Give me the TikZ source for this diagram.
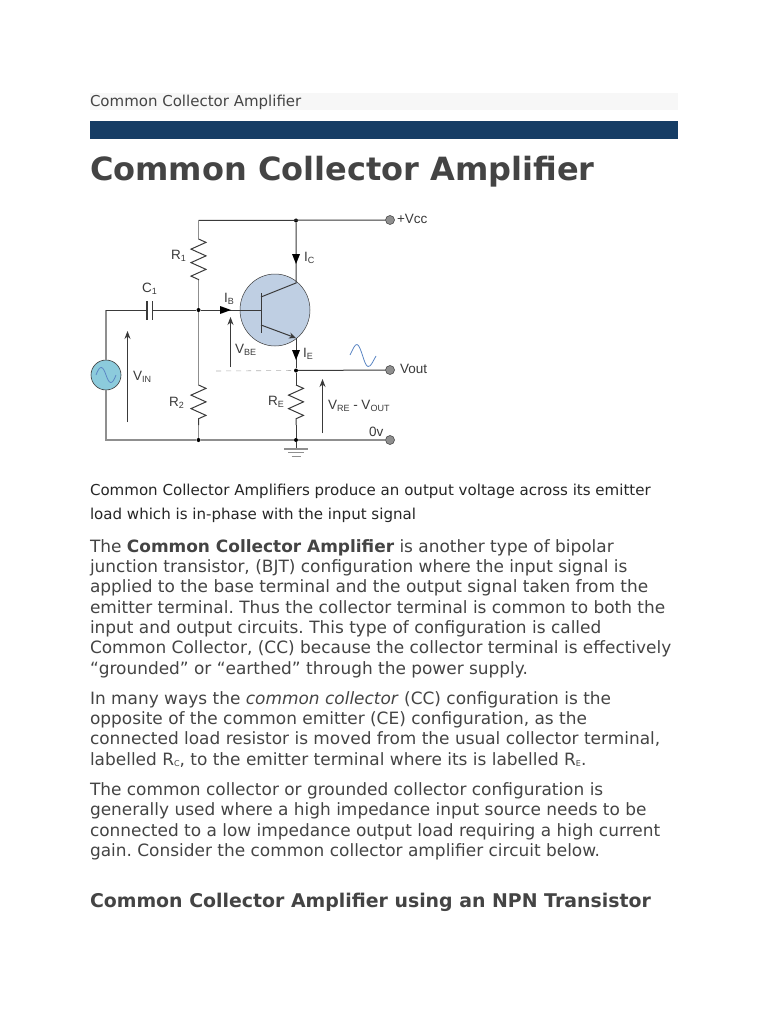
\documentclass[tikz,border=0pt]{standalone}
\usepackage{fontspec}
\setmainfont{DejaVu Sans}
\newfontfamily\labfont{Liberation Sans}
\usetikzlibrary{arrows.meta,decorations.pathmorphing}
\frenchspacing
\definecolor{textgrey}{HTML}{444444}
\definecolor{wiregrey}{HTML}{8F8F8F}
\definecolor{wiredark}{HTML}{3A3A3A}
\definecolor{navybar}{HTML}{163D65}
\definecolor{bandgrey}{HTML}{F7F7F7}
\definecolor{bodyblue}{HTML}{BFCFE3}
\definecolor{srcblue}{HTML}{8CCBDC}
\definecolor{sineblue}{HTML}{5B86C4}
\newcommand{\subl}[1]{\raisebox{-1.5pt}{\fontsize{9}{9}\selectfont #1}}
\newcommand{\subt}[1]{\raisebox{-1pt}{\fontsize{8}{8}\selectfont #1}}
\tikzset{
  txt/.style={anchor=base west, inner sep=0pt, outer sep=0pt, text=textgrey, font=\fontsize{16.95}{20}\selectfont},
  lab/.style={inner sep=0pt, outer sep=0pt, text=wiredark, font=\labfont\fontsize{13.5}{15}\selectfont},
  wire/.style={line width=1pt, draw=wiredark},
  greywire/.style={line width=1.2pt, draw=wiregrey},
  resistor/.style={line width=1pt, draw=wiredark, decorate, decoration={zigzag, segment length=13.5pt, amplitude=7.5pt}},
  volt/.style={line width=.8pt, draw=wiredark, -{Stealth[length=8pt, width=6pt]}},
  terminal/.style={circle, draw=wiredark, line width=.5pt, fill=wiregrey, minimum size=9pt, inner sep=0pt},
  dot/.style={circle, fill=black, minimum size=4pt, inner sep=0pt},
  curr/.style={fill=black, draw=none}
}
\begin{document}
\begin{tikzpicture}[x=1pt, y=-1pt]
  \useasboundingbox (0, 0) rectangle (768, 1024);
  \fill [white] (0, 0) rectangle (768, 1024);
  \fill [bandgrey] (90, 93) rectangle (678, 110);
  \fill [navybar] (90, 121) rectangle (678, 139);
  \node [txt, font=\fontsize{15}{16}\selectfont] (crumb) at (90, 107) {Common Collector Amplifier};
  \node [txt, font=\fontsize{32}{36}\selectfont\bfseries] (title) at (90, 181) {Common Collector Amplifier};

  % circuit
  \coordinate (topj) at (198.5, 220.5);
  \coordinate (r1a) at (198.5, 239);
  \coordinate (r1b) at (198.5, 280);
  \node [dot] (basej) at (198.5, 310) {};
  \coordinate (r2a) at (198.5, 385);
  \coordinate (r2b) at (198.5, 425);
  \node [dot] (botj) at (198.5, 440) {};
  \coordinate (corner) at (106, 310);
  \coordinate (cornerb) at (106, 440);
  \coordinate (c1a) at (147, 310);
  \coordinate (c1b) at (152.5, 310);
  \coordinate (base) at (261, 310);
  \node [dot] (vccj) at (296, 220.5) {};
  \node [dot] (outj) at (296, 370.5) {};
  \node [dot] (gndj) at (296, 440) {};
  \coordinate (rea) at (296, 385);
  \coordinate (reb) at (296, 425);
  \coordinate (gnd) at (296, 449);
  \coordinate (coll) at (296, 283);
  \coordinate (emit) at (296, 338);
  \node [terminal] (vcc) at (390, 220) {};
  \node [terminal] (vout) at (390, 370) {};
  \node [terminal] (zero) at (390, 440) {};

  \fill [bodyblue, draw=wiredark, line width=.5pt] (275, 310) ellipse [x radius=35, y radius=36];
  \node [circle, draw=wiredark, line width=.6pt, fill=srcblue, minimum size=30pt, inner sep=0pt] (src) at (106, 375) {};
  \draw [sineblue, line width=.8pt] (96, 375) .. controls (100, 364) and (103, 366) .. (106, 375)
                                    .. controls (109, 384) and (112, 386) .. (116, 375);

  \draw [wire] (topj) -- (vcc);
  \draw [greywire] (topj) -- (r1a) (r1b) -- (basej) -- (r2a) (r2b) -- (botj);
  \draw [greywire] (corner) -- (src) (src) -- (cornerb) -- (botj) -- (gndj) -- (zero);
  \draw [wire] (corner) -- (c1a) (c1b) -- (basej) -- (base);
  \draw [line width=1.2pt, wiredark] (147, 301) -- (147, 320) (152.5, 301) -- (152.5, 320);
  \draw [resistor] (r1a) -- (r1b);
  \draw [resistor] (r2a) -- (r2b);
  \draw [resistor] (rea) -- (reb);
  \draw [line width=.8pt, wiredark] (261, 293) -- (261, 333);
  \draw [wire] (vccj) -- (coll) -- (261, 297);
  \draw [wire, -{Stealth[length=7pt, width=6pt]}] (261, 325) -- (emit);
  \draw [wire] (emit) -- (outj) -- (rea);
  \draw [wire] (outj) -- (vout);
  \draw [wire] (reb) -- (gndj) -- (gnd);
  \draw [greywire] (284, 449) -- (308, 449);
  \draw [greywire, line width=.8pt] (288, 452.5) -- (304, 452.5);
  \draw [greywire, line width=.8pt] (291.5, 456) -- (300.5, 456);
  \draw [dashed, draw=wiregrey!70, line width=.6pt, dash pattern=on 5pt off 5pt] (216, 371) -- (outj);

  % current arrows
  \fill [curr] (220, 306) -- (231, 310) -- (220, 314) -- cycle;
  \fill [curr] (292, 254) -- (300, 254) -- (296, 264) -- cycle;
  \fill [curr] (292, 350) -- (300, 350) -- (296, 360) -- cycle;

  % voltage arrows
  \coordinate (vina) at (127.5, 422);
  \coordinate (vinb) at (127.5, 331);
  \coordinate (vbea) at (230.5, 367);
  \coordinate (vbeb) at (230.5, 317);
  \coordinate (vrea) at (322.5, 433);
  \coordinate (vreb) at (322.5, 379);
  \draw [volt] (vina) -- (vinb);
  \draw [volt] (vbea) -- (vbeb);
  \draw [volt] (vrea) -- (vreb);

  \draw [sineblue, line width=.8pt] (350, 355) .. controls (353, 349) and (355, 344) .. (357, 344.5)
                                    .. controls (361, 345) and (364, 366) .. (368, 366.5)
                                    .. controls (371, 367) and (373, 361) .. (376, 356);

  \node [lab, anchor=west] (lc1) at (142, 289) {C\subl{1}};
  \node [lab, anchor=west] (lr1) at (171, 256) {R\subl{1}};
  \node [lab, anchor=west] (lr2) at (169, 403) {R\subl{2}};
  \node [lab, anchor=west] (lib) at (224, 299) {I\subl{B}};
  \node [lab, anchor=west] (lvin) at (133, 377) {V\subl{IN}};
  \node [lab, anchor=west] (lvbe) at (235, 350) {V\subl{BE}};
  \node [lab, anchor=west] (lic) at (304, 258) {I\subl{C}};
  \node [lab, anchor=west] (lie) at (303, 354) {I\subl{E}};
  \node [lab, anchor=west] (lre) at (268, 402) {R\subl{E}};
  \node [lab, anchor=west] (lvre) at (328, 406) {V\subl{RE} - V\subl{OUT}};
  \node [lab, anchor=west] (lvcc) at (397, 219) {+Vcc};
  \node [lab, anchor=west] (lvout) at (400, 369) {Vout};
  \node [lab, anchor=west] (lzero) at (369, 432) {0v};

  % text lines
  \node [txt, text=black!85, font=\fontsize{15.05}{16}\selectfont] (cap1) at (90, 495) {Common Collector Amplifiers produce an output voltage across its emitter};
  \node [txt, text=black!85, font=\fontsize{15.05}{16}\selectfont] (cap2) at (90, 519) {load which is in-phase with the input signal};
  \node [txt] (l1) at (90, 552) {The \textbf{Common Collector Amplifier} is another type of bipolar};
  \node [txt] (l2) at (90, 572) {junction transistor, (BJT) configuration where the input signal is};
  \node [txt] (l3) at (90, 592) {applied to the base terminal and the output signal taken from the};
  \node [txt] (l4) at (90, 613) {emitter terminal. Thus the collector terminal is common to both the};
  \node [txt] (l5) at (90, 633) {input and output circuits. This type of configuration is called};
  \node [txt] (l6) at (90, 653) {Common Collector, (CC) because the collector terminal is effectively};
  \node [txt] (l7) at (90, 674) {“grounded” or “earthed” through the power supply.};
  \node [txt] (l8) at (90, 704) {In many ways the \textit{common collector} (CC) configuration is the};
  \node [txt] (l9) at (90, 724) {opposite of the common emitter (CE) configuration, as the};
  \node [txt] (l10) at (90, 744) {connected load resistor is moved from the usual collector terminal,};
  \node [txt] (l11) at (90, 765) {labelled R\subt{C}, to the emitter terminal where its is labelled R\subt{E}.};
  \node [txt] (l12) at (90, 795) {The common collector or grounded collector configuration is};
  \node [txt] (l13) at (90, 815) {generally used where a high impedance input source needs to be};
  \node [txt] (l14) at (90, 836) {connected to a low impedance output load requiring a high current};
  \node [txt] (l15) at (90, 856) {gain. Consider the common collector amplifier circuit below.};
  \node [txt, font=\fontsize{18.9}{22}\selectfont\bfseries] (head) at (90, 907) {Common Collector Amplifier using an NPN Transistor};
\end{tikzpicture}
\end{document}
